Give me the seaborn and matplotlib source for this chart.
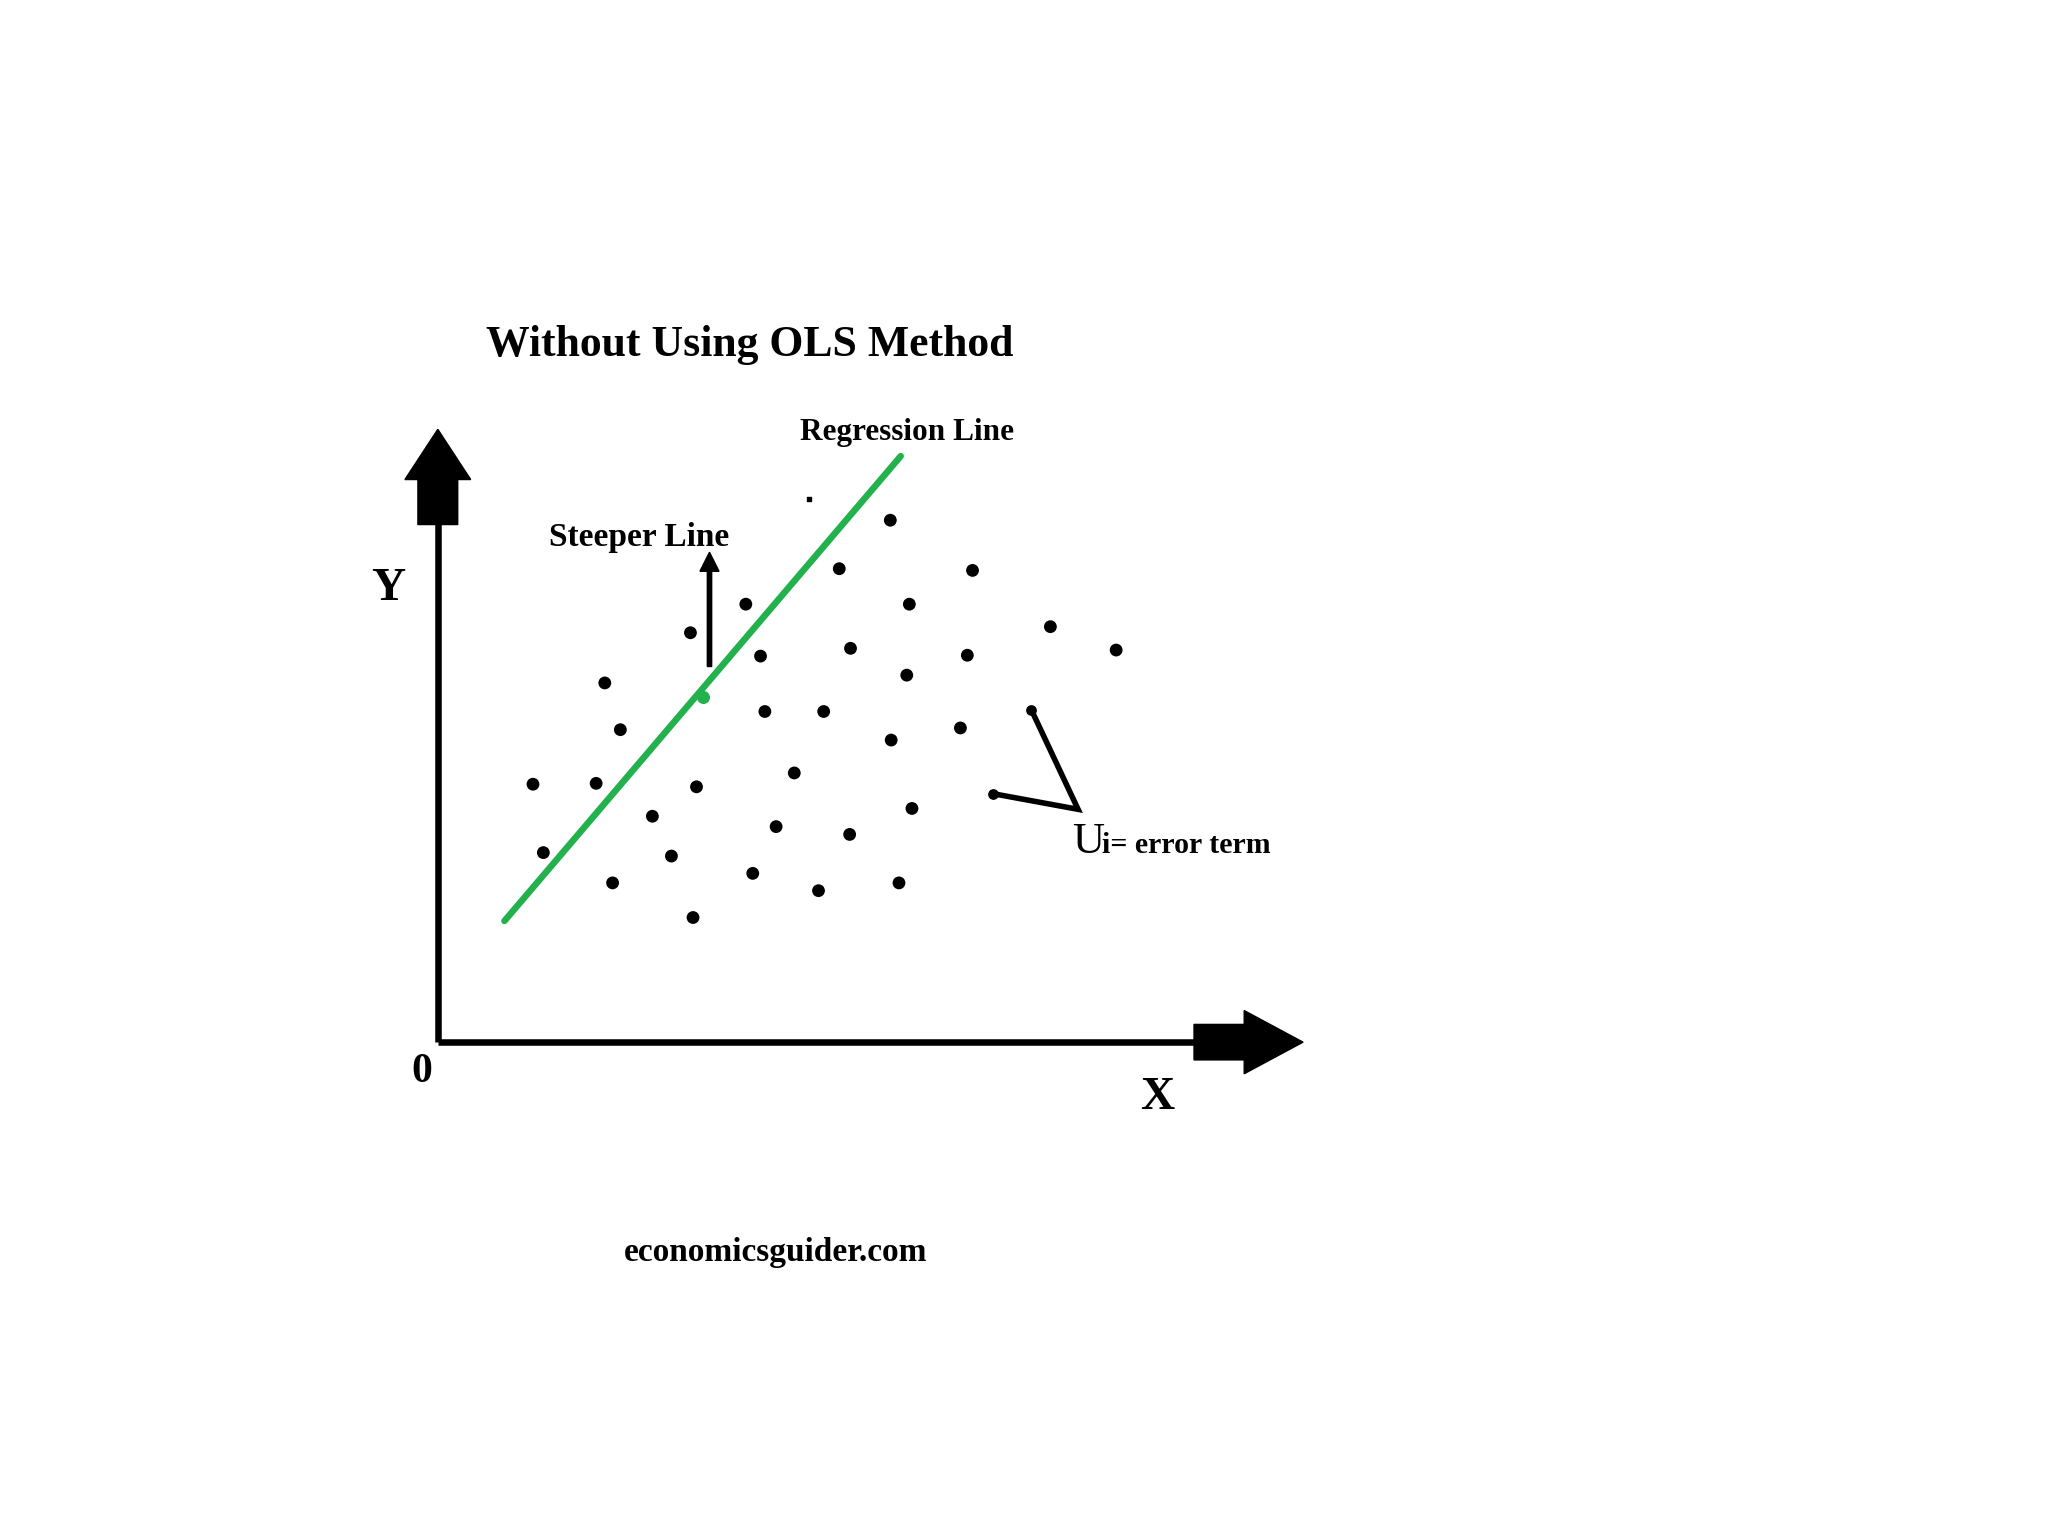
import matplotlib
matplotlib.use("Agg")
import matplotlib.pyplot as plt
import matplotlib.patches as mpatches
import seaborn as sns
import pandas as pd

# scatter points (x, y) in axis units
pts_x = [5.23, 4.64, 6.18, 3.56, 5.45, 2.92, 7.08, 3.73, 4.77, 6.12, 7.84,
         1.93, 5.42, 2.11, 3.78, 4.46, 6.04, 5.24, 4.12, 1.10, 1.83, 2.99,
         2.48, 5.48, 3.91, 4.76, 1.22, 2.70, 3.64, 2.02, 4.40, 5.33, 2.95]
pts_y = [6.03, 5.47, 5.45, 5.06, 5.06, 4.73, 4.80, 4.46, 4.55, 4.47, 4.53,
         4.15, 4.24, 3.61, 3.82, 3.82, 3.63, 3.49, 3.11, 2.98, 2.99, 2.95,
         2.61, 2.70, 2.49, 2.40, 2.19, 2.15, 1.95, 1.84, 1.75, 1.84, 1.44]

# regression line end points
reg_x = [0.77, 5.35]
reg_y = [1.40, 6.77]

# error term bracket
err_x = [6.86, 7.40, 6.42]
err_y = [3.84, 2.69, 2.87]

# steeper line arrow
steep_x = 3.14
steep_y = [4.34, 5.66]

sns.set_theme(style="white")
plt.rcParams['font.family'] = ['Liberation Serif', 'DejaVu Serif']
plt.rcParams['text.color'] = 'black'

fig = plt.figure(figsize=(20.48, 15.39), dpi=100)
ax = fig.add_axes([0, 0, 1, 1])
ax.set_xlim(-5.06, 18.61)
ax.set_ylim(-5.74, 12.04)
ax.axis('off')

df = pd.DataFrame({'x': pts_x, 'y': pts_y})
sns.lineplot(x=reg_x, y=reg_y, ax=ax, color='#22b14c', linewidth=4.7, zorder=2)
sns.scatterplot(data=df, x='x', y='y', ax=ax, color='black', s=85,
                edgecolor='none', zorder=3)
# small dots
ax.scatter([4.29], [6.27], color='black', s=10, marker='s', zorder=3)
ax.scatter([3.07], [3.99], color='#22b14c', s=70, zorder=3)

# axes with block arrows
ax.plot([0, 0], [0, 6.0], color='black', linewidth=4.7, solid_capstyle='butt')
ax.plot([0, 8.76], [0, 0], color='black', linewidth=4.7, solid_capstyle='butt')
ax.add_patch(mpatches.FancyArrow(0, 5.98, 0, 1.10, width=0.46, head_width=0.76,
                                 head_length=0.58, length_includes_head=True,
                                 color='black'))
ax.add_patch(mpatches.FancyArrow(8.74, 0, 1.26, 0, width=0.41, head_width=0.73,
                                 head_length=0.68, length_includes_head=True,
                                 color='black'))

# steeper arrow
ax.add_patch(mpatches.FancyArrow(steep_x, steep_y[0], 0, steep_y[1] - steep_y[0],
                                 width=0.05, head_width=0.22, head_length=0.22,
                                 length_includes_head=True, color='black'))

# error bracket
ax.plot(err_x, err_y, color='black', linewidth=4.0, solid_capstyle='round',
        solid_joinstyle='miter')
ax.scatter([err_x[0], err_x[2]], [err_y[0], err_y[2]], color='black', s=45, zorder=3)

# texts
ax.text(3.60, 8.06, 'Without Using OLS Method', fontsize=31.5, fontweight='bold',
        ha='center', va='center')
ax.text(5.42, 7.04, 'Regression Line', fontsize=22.5, fontweight='bold',
        ha='center', va='center')
ax.text(2.33, 5.83, 'Steeper Line', fontsize=24, fontweight='bold',
        ha='center', va='center')
ax.text(-0.57, 5.24, 'Y', fontsize=34, fontweight='bold', ha='center', va='center')
ax.text(-0.18, -0.35, '0', fontsize=30, fontweight='bold', ha='center', va='center')
ax.text(8.32, -0.65, 'X', fontsize=34, fontweight='bold', ha='center', va='center')
ax.text(7.33, 2.31, 'U', fontsize=32, ha='left', va='center')
ax.text(7.68, 2.27, 'i= error term', fontsize=21.5, fontweight='bold',
        ha='left', va='center')
ax.text(3.90, -2.43, 'economicsguider.com', fontsize=24, fontweight='bold',
        ha='center', va='center')

fig.savefig('out.png', dpi=100)
